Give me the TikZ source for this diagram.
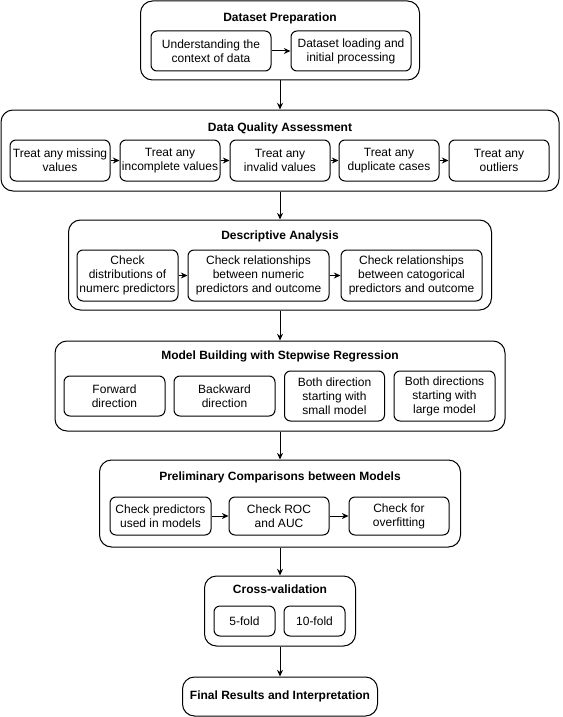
\documentclass[tikz,border=0pt]{standalone}
\usepackage{fontspec}
\setmainfont{Liberation Sans}
\usetikzlibrary{arrows.meta}
\tikzset{font=\fontsize{9}{10.5}\selectfont}

\begin{document}
\begin{tikzpicture}[x=0.75pt, y=-0.75pt,
	stage/.style 2 args={draw, line width=0.75pt, rounded corners=9pt, minimum width=#1*0.75pt, minimum height=#2*0.75pt},
	task/.style 2 args={draw, line width=0.75pt, rounded corners=4.5pt, minimum width=#1*0.75pt, minimum height=#2*0.75pt},
	title/.style={font=\fontsize{9}{10.5}\selectfont\bfseries},
	arr/.style={-{Stealth[length=5pt, width=4.5pt]}, line width=0.75pt}]
	\useasboundingbox (0, 0) rectangle (562, 717);
	\tikzstyle{every node}=[align=center, inner sep=0pt]

	% stages
	\node[stage={279}{79}] (prep) at (280, 40.5) {};
	\node[stage={558}{81}] (qual) at (280, 150.5) {};
	\node[stage={423}{90}] (desc) at (280, 265) {};
	\node[stage={450}{90}] (model) at (280, 386) {};
	\node[stage={361}{87}] (prelim) at (280, 503.5) {};
	\node[stage={151}{70}] (cross) at (280, 611) {};
	\node[stage={195}{39}, title] (final) at (280, 696.5) {Final Results and Interpretation};

	\node[title] (prept) at (280, 18) {Dataset Preparation};
	\node[title] (qualt) at (280, 128) {Data Quality Assessment};
	\node[title] (desct) at (280, 236) {Descriptive Analysis};
	\node[title] (modelt) at (280, 356) {Model Building with Stepwise Regression};
	\node[title] (prelimt) at (280, 477) {Preliminary Comparisons between Models};
	\node[title] (crosst) at (280, 589) {Cross-validation};

	% Dataset Preparation
	\node[task={120}{40}] (ctx) at (211, 51) {Understanding the\\context of data};
	\node[task={120}{40}] (load) at (351, 51) {Dataset loading and\\initial processing};

	% Data Quality Assessment
	\node[task={100}{41}] (miss) at (60, 160.5) {Treat any missing\\values};
	\node[task={100}{41}] (incomp) at (170, 160.5) {Treat any\\incomplete values};
	\node[task={100}{41}] (inval) at (280, 160.5) {Treat any\\invalid values};
	\node[task={100}{41}] (dup) at (389, 160.5) {Treat any\\duplicate cases};
	\node[task={100}{41}] (outl) at (499, 160.5) {Treat any\\outliers};

	% Descriptive Analysis
	\node[task={101}{51}] (distr) at (127.5, 275.5) {Check\\distributions of\\numerc predictors};
	\node[task={141}{51}] (relnum) at (258.5, 275.5) {Check relationships\\between numeric\\predictors and outcome};
	\node[task={141}{51}] (relcat) at (411.5, 275.5) {Check relationships\\between catogorical\\predictors and outcome};

	% Model Building
	\node[task={101}{40}] (fwd) at (114.5, 396) {Forward\\direction};
	\node[task={101}{40}] (bwd) at (224.5, 396) {Backward\\direction};
	\node[task={100}{50}] (small) at (334.5, 396) {Both direction\\starting with\\small model};
	\node[task={101}{50}] (large) at (444.5, 396) {Both directions\\starting with\\large model};

	% Preliminary Comparisons
	\node[task={101}{38}] (pred) at (160.5, 516) {Check predictors\\used in models};
	\node[task={100}{38}] (roc) at (279, 516) {Check ROC\\and AUC};
	\node[task={100}{38}] (over) at (399, 516) {Check for\\overfitting};

	% Cross-validation
	\node[task={61}{30}] (five) at (244.5, 621) {5-fold};
	\node[task={61}{30}] (ten) at (314.5, 621) {10-fold};

	\draw[arr] (prep) to (qual);
	\draw[arr] (qual) to (desc);
	\draw[arr] (desc) to (model);
	\draw[arr] (model) to (prelim);
	\draw[arr] (prelim) to (cross);
	\draw[arr] (cross) to (final);

	\draw[arr] (ctx) to (load);
	\draw[arr] (miss) to (incomp);
	\draw[arr] (incomp) to (inval);
	\draw[arr] (inval) to (dup);
	\draw[arr] (dup) to (outl);
	\draw[arr] (distr) to (relnum);
	\draw[arr] (relnum) to (relcat);
	\draw[arr] (pred) to (roc);
	\draw[arr] (roc) to (over);
\end{tikzpicture}
\end{document}
